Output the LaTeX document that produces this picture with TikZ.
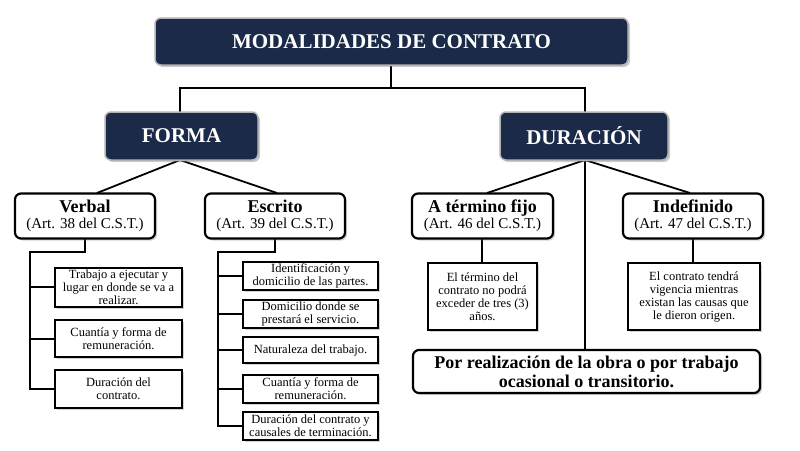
\documentclass[tikz,border=0pt]{standalone}
\usepackage{fontspec}
\setmainfont{Liberation Serif}
\usetikzlibrary{shadows}
\definecolor{navy}{HTML}{1B2A48}
\tikzset{x=1pt,y=-1pt,
 navybox/.style={draw=gray!60,line width=1.5pt,fill=navy,rounded corners=6pt,text=white,font=\bfseries\fontsize{21}{24}\selectfont,drop shadow={shadow xshift=2pt,shadow yshift=-2pt,opacity=.4}},
 midbox/.style={draw=black,line width=2.2pt,fill=white,rounded corners=6pt,align=center,inner sep=1pt,font=\fontsize{15}{16}\selectfont,drop shadow={shadow xshift=2pt,shadow yshift=-2pt,opacity=.35}},
 smallbox/.style={draw=black,line width=1.6pt,fill=white,align=center,inner sep=1pt,font=\fontsize{12.5}{13}\selectfont,drop shadow={shadow xshift=2pt,shadow yshift=-2pt,opacity=.35}},
 ln/.style={line width=1.8pt,draw=black}}
\newcommand{\ttl}[1]{{\bfseries\fontsize{18}{19}\selectfont #1}}
\begin{document}
\begin{tikzpicture}
\useasboundingbox (0,0) rectangle (800,450);
\draw[ln] (391,65) -- (391,88) coordinate (tm);
\draw[ln] (180,112) |- (tm) -| (585,112);
\draw[ln] (180,160) -- (97,193);
\draw[ln] (180,160) -- (277,193);
\draw[ln] (585,160) -- (487,193);
\draw[ln] (585,160) -- (690,193);
\draw[ln] (585,160) -- (585,350);
\draw[ln] (85,238) -- (85,252) -- (30,252) -- (30,389) -- (55,389);
\draw[ln] (30,287) -- (55,287);
\draw[ln] (30,339) -- (55,339);
\draw[ln] (275,238) -- (275,252) -- (218,252) -- (218,426) -- (243,426);
\foreach \y in {276,314,350,389} \draw[ln] (218,\y) -- (243,\y);
\draw[ln] (482,238) -- (482,263);
\draw[ln] (693,238) -- (693,263);
\node[navybox,minimum width=473,minimum height=47] (title) at (391.5,41.5) {MODALIDADES DE CONTRATO};
\node[navybox,minimum width=153,minimum height=48] (forma) at (181.5,136) {FORMA};
\node[navybox,minimum width=168,minimum height=48] (dur) at (584,136) {DURACIÓN};
\node[midbox,minimum width=140,minimum height=45] (verbal) at (85,216) {\ttl{Verbal}\\(Art. 38 del C.S.T.)};
\node[midbox,minimum width=140,minimum height=45] (escrito) at (275,216) {\ttl{Escrito}\\(Art. 39 del C.S.T.)};
\node[midbox,minimum width=141,minimum height=45] (fijo) at (482.5,216) {\ttl{A término fijo}\\(Art. 46 del C.S.T.)};
\node[midbox,minimum width=140,minimum height=45] (indef) at (693,216) {\ttl{Indefinido}\\(Art. 47 del C.S.T.)};
\node[midbox,minimum width=347,minimum height=43,font=\bfseries\fontsize{18}{19}\selectfont] (obra) at (586.5,371.5) {Por realización de la obra o por trabajo\\ocasional o transitorio.};
\node[smallbox,minimum width=127,minimum height=39] (v1) at (118.5,287.5) {Trabajo a ejecutar y\\lugar en donde se va a\\realizar.};
\node[smallbox,minimum width=127,minimum height=37] (v2) at (118.5,338.5) {Cuantía y forma de\\remuneración.};
\node[smallbox,minimum width=127,minimum height=38] (v3) at (118.5,389) {Duración del\\contrato.};
\node[smallbox,minimum width=135,minimum height=28] (e1) at (310.5,276) {Identificación y\\domicilio de las partes.};
\node[smallbox,minimum width=135,minimum height=28] (e2) at (310.5,314) {Domicilio donde se\\prestará el servicio.};
\node[smallbox,minimum width=135,minimum height=26] (e3) at (310.5,350) {Naturaleza del trabajo.};
\node[smallbox,minimum width=135,minimum height=28] (e4) at (310.5,389) {Cuantía y forma de\\remuneración.};
\node[smallbox,minimum width=135,minimum height=28] (e5) at (310.5,426) {Duración del contrato y\\causales de terminación.};
\node[smallbox,minimum width=109,minimum height=67] (f1) at (482.5,296.5) {El término del\\contrato no podrá\\exceder de tres (3)\\años.};
\node[smallbox,minimum width=132,minimum height=67] (i1) at (694,296.5) {El contrato tendrá\\vigencia mientras\\existan las causas que\\le dieron origen.};
\end{tikzpicture}
\end{document}
